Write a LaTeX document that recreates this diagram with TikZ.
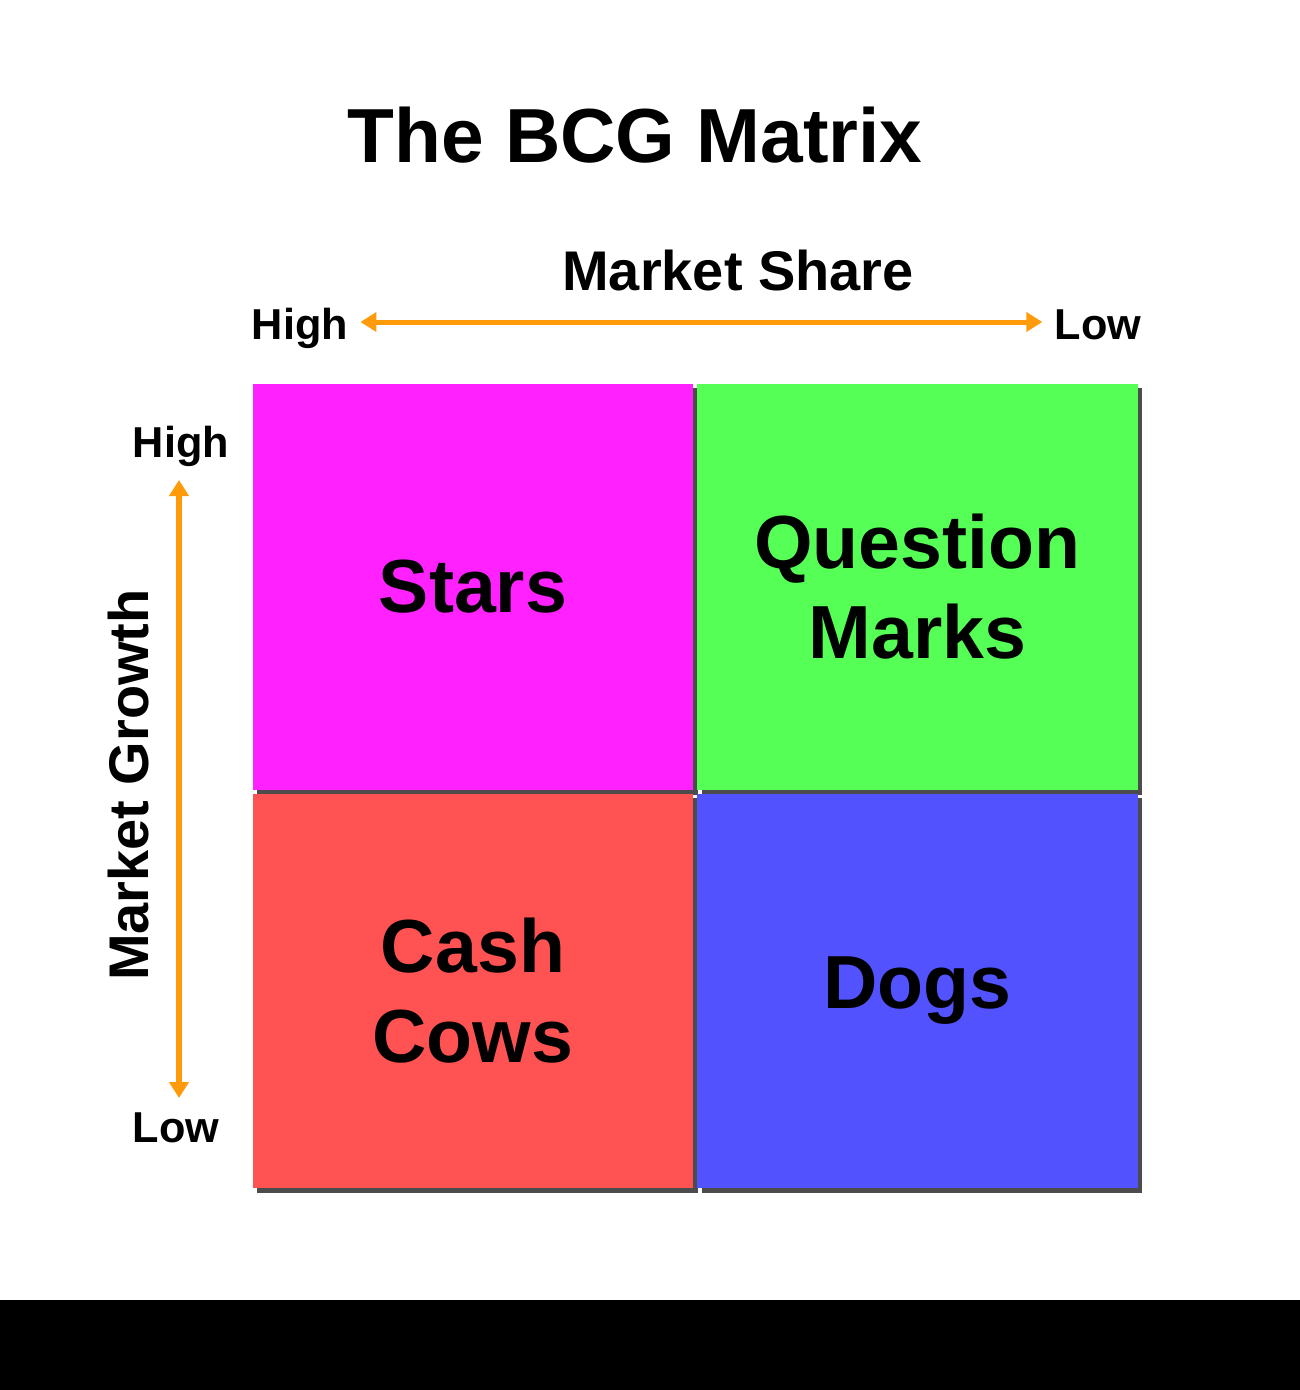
\documentclass[tikz,border=0pt]{standalone}
\usepackage{fontspec}
\setmainfont{Liberation Sans}
\usetikzlibrary{arrows.meta,shadows}
\definecolor{bcgorange}{HTML}{FF9A0A}
\definecolor{starcol}{HTML}{FF22FF}
\definecolor{qmcol}{HTML}{55FF55}
\definecolor{cowcol}{HTML}{FF5252}
\definecolor{dogcol}{HTML}{5252FF}
\tikzset{
  axislabel/.style={font=\fontsize{12.3}{14}\selectfont\bfseries},
  axistitle/.style={font=\fontsize{15.9}{18}\selectfont\bfseries},
  quadrant/.style={draw=none,minimum width=4.4cm,inner sep=0pt,align=center,
    font=\fontsize{21.4}{25.6}\selectfont\bfseries,
    drop shadow={shadow xshift=0.045cm,shadow yshift=-0.045cm,fill=black!70,opacity=1}},
  orangearrow/.style={bcgorange,line width=0.05cm,
    {Triangle[width=0.19cm,length=0.16cm]}-{Triangle[width=0.19cm,length=0.16cm]}}
}
\begin{document}
\begin{tikzpicture}[x=0.01cm,y=-0.01cm]
    \useasboundingbox[fill=white] (0,0) rectangle (1300,1390);
    \fill[black] (0,1300) rectangle (1300,1390);
    \node[anchor=base,font=\fontsize{21.8}{26}\selectfont\bfseries] (title) at (635,162) {The BCG Matrix};
    \node[anchor=base,axistitle] (share) at (738,290) {Market Share};
    \node[anchor=base,axislabel] (hsHigh) at (300,339) {High};
    \node[anchor=base,axislabel] (hsLow) at (1098,339) {Low};
    \draw[orangearrow] (hsHigh.east |- 0,322) -- (hsLow.west |- 0,322);
    \node[anchor=base,axislabel] (vgHigh) at (181,457) {High};
    \node[anchor=base,axislabel] (vgLow) at (176,1142) {Low};
    \coordinate (vgTop) at (179,480);
    \coordinate (vgBottom) at (179,1098);
    \draw[orangearrow] (vgTop) -- (vgBottom);
    \node[anchor=base,axistitle,rotate=90] (growth) at (148,785) {Market Growth};
    \node[quadrant,fill=starcol,minimum height=4.06cm] (stars) at (473,587) {Stars};
    \node[quadrant,fill=qmcol,minimum height=4.06cm] (qmarks) at (917.5,587) {Question\\Marks};
    \node[quadrant,fill=cowcol,minimum height=3.94cm] (cows) at (473,991) {Cash\\Cows};
    \node[quadrant,fill=dogcol,minimum height=3.94cm] (dogs) at (917.5,991) {Dogs};
\end{tikzpicture}
\end{document}
